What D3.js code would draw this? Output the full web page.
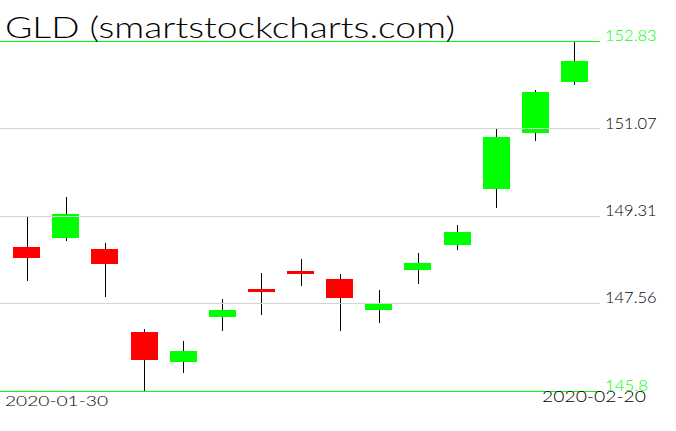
<!DOCTYPE html>
<html lang="en">
<head>
  <meta charset="UTF-8">
  <title>GLD</title>
  <style>
    body { margin: 0; background: #fff; }
    svg { display: block; }
    text { font-family: Lato, "DejaVu Sans", sans-serif; font-weight: 300; }
  </style>
</head>
<body>
  <div class="warp"></div>
  <script src="https://cdn.jsdelivr.net/npm/d3@7"></script>
  <script>
    // daily candles
    var dates = ['2020-01-30', '2020-01-31', '2020-02-03', '2020-02-04', '2020-02-05',
      '2020-02-06', '2020-02-07', '2020-02-10', '2020-02-11', '2020-02-12',
      '2020-02-13', '2020-02-14', '2020-02-18', '2020-02-19', '2020-02-20'];
    var open  = [148.69, 148.86, 148.65, 146.97, 146.37, 147.27, 147.83, 148.21, 148.03, 147.41, 148.22, 148.72, 149.86, 150.97, 151.99];
    var high  = [149.30, 149.68, 148.77, 147.03, 146.80, 147.63, 148.17, 148.45, 148.15, 147.81, 148.57, 149.13, 151.08, 151.83, 152.83];
    var low   = [148.00, 148.80, 147.67, 145.80, 146.15, 146.99, 147.31, 147.90, 146.99, 147.15, 147.94, 148.62, 149.46, 150.81, 151.93];
    var close = [148.46, 149.34, 148.34, 146.41, 146.60, 147.41, 147.77, 148.15, 147.65, 147.55, 148.37, 148.99, 150.90, 151.79, 152.41];

    var tickValues = [145.8, 147.56, 149.31, 151.07, 152.83];
    var tickLabels = ['145.8', '147.56', '149.31', '151.07', '152.83'];

    var title = 'GLD (smartstockcharts.com)';

    var width = 676, height = 431;
    var plotRight = 600;

    var svg = d3.select('.warp').append('svg')
      .attr('width', width)
      .attr('height', height);

    var x = d3.scaleBand()
      .domain(dates)
      .range([7.2, 593.9])
      .paddingInner(0.31)
      .paddingOuter(0.155);

    var y = d3.scaleLinear()
      .domain([tickValues[0], tickValues[tickValues.length - 1]])
      .range([390.5, 40.5]);

    var candles = dates.map(function (d, i) {
      return { date: d, o: open[i], h: high[i], l: low[i], c: close[i] };
    });

    var g = svg.append('g').attr('class', 'candles');

    // wicks
    g.selectAll('line.wick')
      .data(candles)
      .enter()
      .append('line')
      .attr('class', 'wick')
      .attr('x1', d => Math.round(x(d.date) + x.bandwidth() / 2) + 0.5)
      .attr('x2', d => Math.round(x(d.date) + x.bandwidth() / 2) + 0.5)
      .attr('y1', d => y(d.h))
      .attr('y2', d => y(d.l))
      .attr('stroke', '#000')
      .attr('stroke-width', 1)
      .attr('shape-rendering', 'crispEdges');

    // bodies
    g.selectAll('rect.body')
      .data(candles)
      .enter()
      .append('rect')
      .attr('class', 'body')
      .attr('x', d => Math.round(x(d.date)))
      .attr('width', Math.round(x.bandwidth()))
      .attr('y', d => Math.round(y(Math.max(d.o, d.c))))
      .attr('height', d => Math.max(3, Math.round(Math.abs(y(d.o) - y(d.c)))))
      .attr('fill', d => d.c >= d.o ? '#00ff00' : '#ff0000')
      .attr('shape-rendering', 'crispEdges');

    // grid lines + right labels
    var axis = d3.axisRight(y)
      .tickValues(tickValues)
      .tickFormat((d, i) => tickLabels[i])
      .tickSize(-plotRight)
      .tickPadding(5);

    var ag = svg.append('g')
      .attr('transform', 'translate(' + plotRight + ',0)')
      .call(axis);
    ag.select('.domain').remove();
    ag.selectAll('.tick line')
      .attr('stroke', (d, i) => (i === 0 || i === tickValues.length - 1) ? '#00ff00' : '#d3d3d3')
      .attr('shape-rendering', 'crispEdges');
    ag.selectAll('.tick text')
      .attr('dy', 0)
      .attr('y', 0)
      .attr('fill', (d, i) => (i === 0 || i === tickValues.length - 1) ? '#00ff00' : '#000')
      .attr('textLength', (d, i) => tickLabels[i].length * 8.6)
      .attr('lengthAdjust', 'spacingAndGlyphs')
      .style('font-size', '15px')
      .style('font-weight', 300)
      .style('font-family', 'Lato, "DejaVu Sans", sans-serif');

    // title
    svg.append('text')
      .attr('x', 5)
      .attr('y', 37.5)
      .attr('textLength', 450)
      .attr('lengthAdjust', 'spacingAndGlyphs')
      .style('font-size', '29px')
      .style('font-weight', 300)
      .attr('fill', '#000')
      .text(title);

    // first / last date
    svg.append('text')
      .attr('x', 5)
      .attr('y', 406)
      .attr('textLength', 103)
      .attr('lengthAdjust', 'spacingAndGlyphs')
      .style('font-size', '13px')
      .text(dates[0]);

    svg.append('text')
      .attr('x', 646)
      .attr('y', 402)
      .attr('text-anchor', 'end')
      .attr('textLength', 104)
      .attr('lengthAdjust', 'spacingAndGlyphs')
      .style('font-size', '15px')
      .text(dates[dates.length - 1]);
  </script>
</body>
</html>
